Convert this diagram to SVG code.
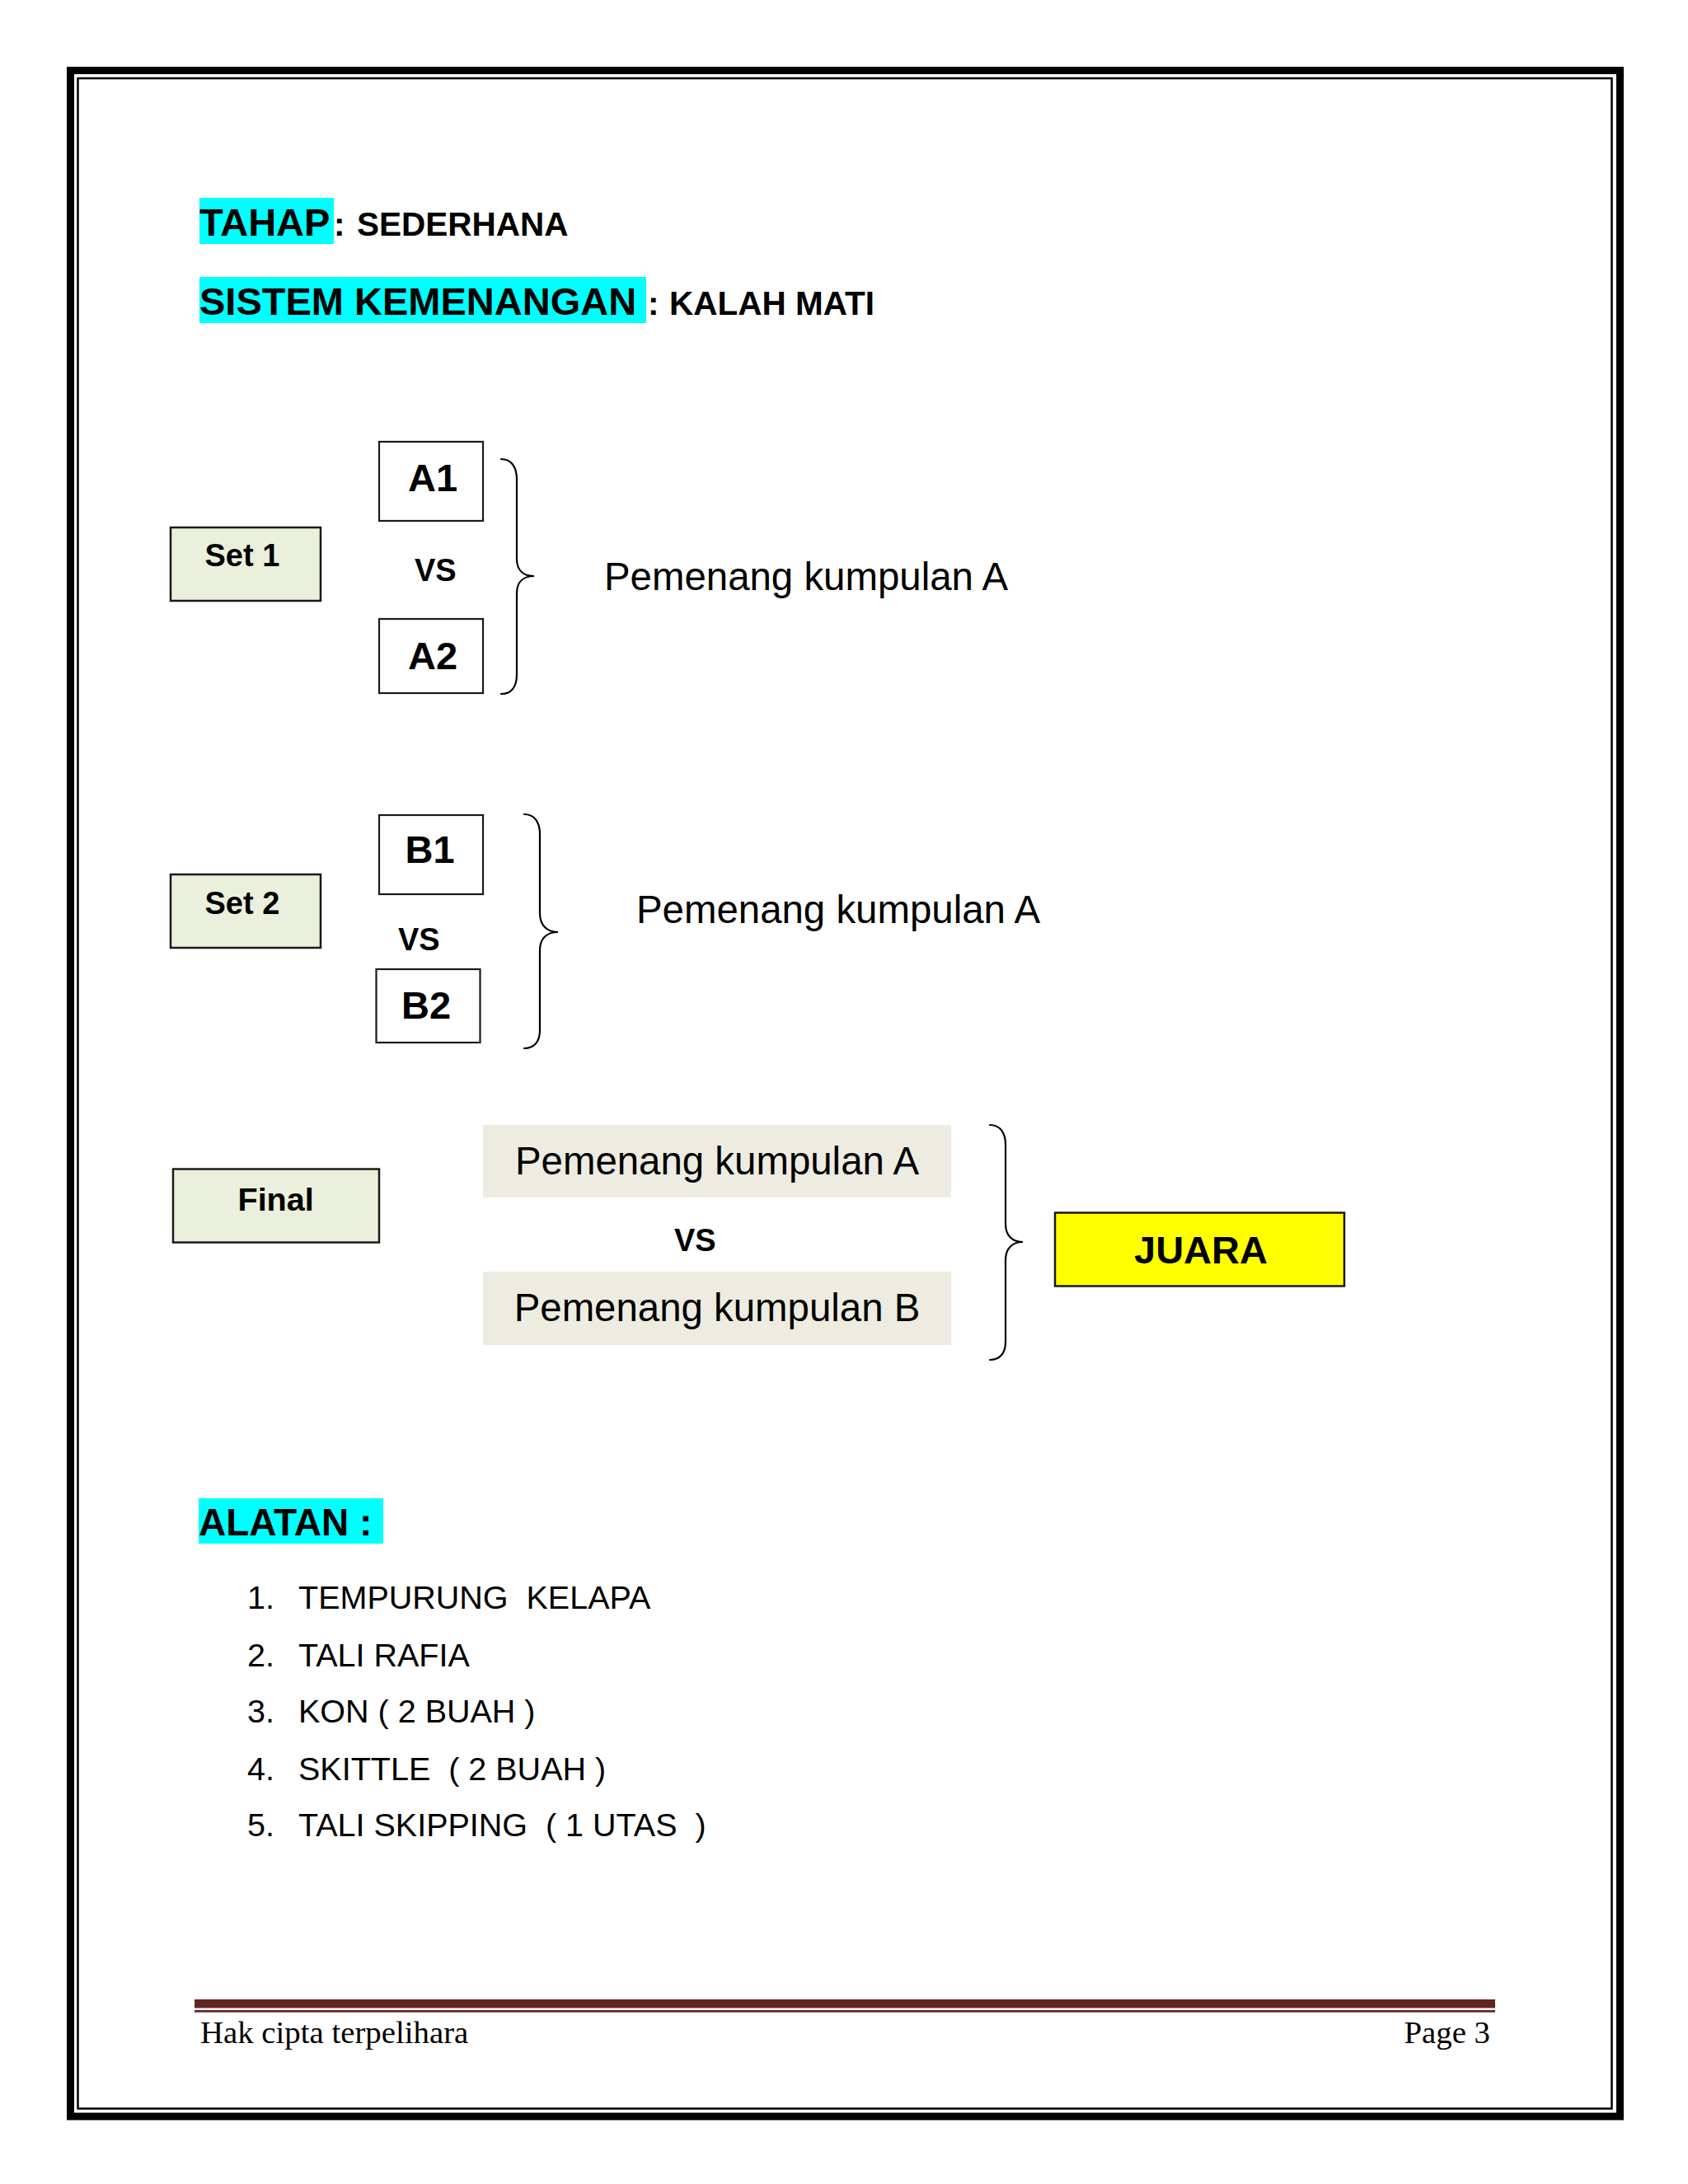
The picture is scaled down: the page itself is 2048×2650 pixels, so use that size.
<svg xmlns="http://www.w3.org/2000/svg" width="2048" height="2650" viewBox="0 0 2048 2650">
  <style>
    .b { font-family: "Liberation Sans", Arial, sans-serif; font-weight: bold; fill: #000; }
    .r { font-family: "Liberation Sans", Arial, sans-serif; font-weight: normal; fill: #000; }
    .s { font-family: "Liberation Serif", "Times New Roman", serif; fill: #000; }
    .pre { white-space: pre; }
    .setbox { fill: #EAF0DB; stroke: #1a1a1a; stroke-width: 2.5; }
    .teambox { fill: #FFFFFF; stroke: #1a1a1a; stroke-width: 2.2; }
    .winbox { fill: #EEECE1; stroke: none; }
    .brace { fill: none; stroke: #000; stroke-width: 2.2; stroke-linecap: round; }
    .hl { fill: #00FFFF; }
  </style>

  <rect x="0" y="0" width="2048" height="2650" fill="#FFFFFF"/>

  <!-- page border -->
  <g id="page-border">
    <rect x="85.5" y="85.5" width="1880" height="2482.5" fill="none" stroke="#000" stroke-width="9"/>
    <rect x="94.5" y="95" width="1861" height="2463.5" fill="none" stroke="#000" stroke-width="2.5"/>
  </g>

  <!-- headings -->
  <g id="heading-tahap">
    <rect class="hl" x="242" y="240" width="163" height="56"/>
    <text class="b" x="242" y="286" font-size="47">TAHAP</text>
    <text class="b" x="405" y="286" font-size="40.5">:</text>
    <text class="b" x="433" y="286" font-size="40.5">SEDERHANA</text>
  </g>
  <g id="heading-sistem">
    <rect class="hl" x="242" y="336" width="542" height="56"/>
    <text class="b" x="242" y="382" font-size="47">SISTEM KEMENANGAN</text>
    <text class="b" x="786" y="382" font-size="40.5">:</text>
    <text class="b" x="812" y="382" font-size="40.5">KALAH MATI</text>
  </g>

  <!-- Set 1 -->
  <g id="set1">
    <rect class="setbox" x="207" y="640" width="182" height="89"/>
    <text class="b" x="248.5" y="687" font-size="38">Set 1</text>
  </g>
  <g id="a1">
    <rect class="teambox" x="460" y="536" width="126" height="96"/>
    <text class="b" x="495" y="596" font-size="47">A1</text>
  </g>
  <g id="vs1">
    <text class="b" x="503" y="705" font-size="38">VS</text>
  </g>
  <g id="a2">
    <rect class="teambox" x="460" y="751" width="126" height="90"/>
    <text class="b" x="495" y="812" font-size="47">A2</text>
  </g>
  <g id="winner1">
    <text class="r" x="733" y="716" font-size="47.4">Pemenang kumpulan A</text>
  </g>

  <!-- Set 2 -->
  <g id="set2">
    <rect class="setbox" x="207" y="1061" width="182" height="89"/>
    <text class="b" x="248.5" y="1109" font-size="38">Set 2</text>
  </g>
  <g id="b1">
    <rect class="teambox" x="460" y="989" width="126" height="96"/>
    <text class="b" x="491.5" y="1047" font-size="47">B1</text>
  </g>
  <g id="vs2">
    <text class="b" x="483" y="1153" font-size="38">VS</text>
  </g>
  <g id="b2">
    <rect class="teambox" x="456.5" y="1176" width="126" height="89"/>
    <text class="b" x="487" y="1236" font-size="47">B2</text>
  </g>
  <g id="winner2">
    <text class="r" x="772" y="1120" font-size="47.4">Pemenang kumpulan A</text>
  </g>

  <!-- Final -->
  <g id="final">
    <rect class="setbox" x="210" y="1418.5" width="250" height="89"/>
    <text class="b" x="288.5" y="1469" font-size="39.5">Final</text>
  </g>
  <g id="finalist-a">
    <rect class="winbox" x="586" y="1365" width="568" height="88"/>
    <text class="r" x="870" y="1425" font-size="47.4" text-anchor="middle">Pemenang kumpulan A</text>
  </g>
  <g id="vs3">
    <text class="b" x="818" y="1518" font-size="38">VS</text>
  </g>
  <g id="finalist-b">
    <rect class="winbox" x="586" y="1543" width="568" height="89"/>
    <text class="r" x="870" y="1603" font-size="47.4" text-anchor="middle">Pemenang kumpulan B</text>
  </g>
  <g id="juara">
    <rect x="1280" y="1471.5" width="351" height="89" fill="#FFFF00" stroke="#1a1a1a" stroke-width="2.5"/>
    <text class="b" x="1376" y="1533" font-size="47">JUARA</text>
  </g>

  <!-- connectors (braces) -->
  <g id="connectors">
    <path class="brace" d="M608,557 C620,557 627,566 627,582 L627,678 C627,692 635,699 648,699 C635,699 627,706 627,720 L627,818 C627,834 620,842 608,842"/>
    <path class="brace" d="M636,988 C648,988 655,997 655,1012 L655,1108 C655,1122 663,1131 677,1131 C663,1131 655,1139 655,1153 L655,1250 C655,1264 648,1272 636,1272"/>
    <path class="brace" d="M1201,1365 C1213,1365 1220,1374 1220,1389 L1220,1485 C1220,1499 1228,1507 1241,1507 C1228,1507 1220,1515 1220,1529 L1220,1628 C1220,1642 1213,1650 1201,1650"/>
  </g>

  <!-- Alatan -->
  <g id="alatan">
    <rect class="hl" x="241" y="1818" width="224" height="55"/>
    <text class="b pre" x="241" y="1863" font-size="46">ALATAN :</text>
  </g>
  <g id="alatan-list">
    <text class="r" x="300" y="1952" font-size="39.5">1.</text>
    <text class="r pre" x="362" y="1952" font-size="39.5">TEMPURUNG  KELAPA</text>
    <text class="r" x="300" y="2022" font-size="39.5">2.</text>
    <text class="r pre" x="362" y="2022" font-size="39.5">TALI RAFIA</text>
    <text class="r" x="300" y="2090" font-size="39.5">3.</text>
    <text class="r pre" x="362" y="2090" font-size="39.5">KON ( 2 BUAH )</text>
    <text class="r" x="300" y="2160" font-size="39.5">4.</text>
    <text class="r pre" x="362" y="2160" font-size="39.5">SKITTLE  ( 2 BUAH )</text>
    <text class="r" x="300" y="2228" font-size="39.5">5.</text>
    <text class="r pre" x="362" y="2228" font-size="39.5">TALI SKIPPING  ( 1 UTAS  )</text>
  </g>

  <!-- footer -->
  <g id="footer">
    <rect x="236" y="2426" width="1578" height="10.5" fill="#622423"/>
    <rect x="236" y="2439" width="1578" height="2.7" fill="#622423"/>
    <text class="s" x="243" y="2479" font-size="38.8">Hak cipta terpelihara</text>
    <text class="s" x="1808" y="2479" font-size="38.8" text-anchor="end">Page 3</text>
  </g>
</svg>
